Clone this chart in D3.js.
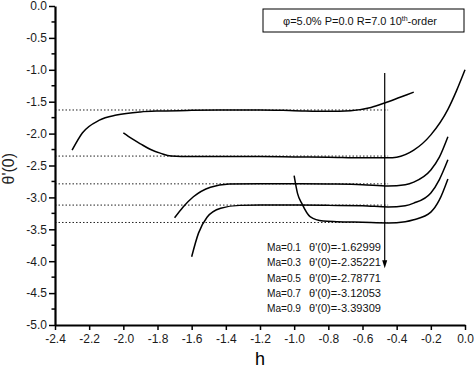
<!DOCTYPE html>
<html>
<head>
<meta charset="utf-8">
<script src="https://cdn.jsdelivr.net/npm/d3@7"></script>
<style>
  body { margin: 0; background: #fff; }
  svg { display: block; font-family: "Liberation Sans", Arial, sans-serif; }
</style>
</head>
<body>
<div class="chart"></div>
<script>
// values
const maValues = [0.1, 0.3, 0.5, 0.7, 0.9];
const theta0 = [-1.62999, -2.35221, -2.78771, -3.12053, -3.39309];

const curveMa01 = [[-2.30,-2.26],[-2.24,-1.99],[-2.14,-1.79],[-2.04,-1.71],[-1.90,-1.66],[-1.78,-1.645],
  [-1.6,-1.635],[-1.4,-1.63],[-1.2,-1.63],[-1.0,-1.64],[-0.8,-1.65],[-0.67,-1.64],[-0.55,-1.59],
  [-0.47,-1.52],[-0.38,-1.43],[-0.30,-1.35]];
const curveMa03 = [[-2.0,-1.99],[-1.95,-2.08],[-1.90,-2.16],[-1.84,-2.25],[-1.78,-2.31],[-1.72,-2.35],
  [-1.6,-2.36],[-1.4,-2.36],[-1.2,-2.36],[-1.0,-2.365],[-0.8,-2.37],[-0.6,-2.38],[-0.45,-2.38],
  [-0.4,-2.37],[-0.3,-2.26],[-0.2,-2.02],[-0.1,-1.62],[-0.05,-1.33],[0.0,-1.0]];
const curveMa05 = [[-1.70,-3.32],[-1.65,-3.15],[-1.59,-2.99],[-1.49,-2.84],[-1.38,-2.79],[-1.2,-2.785],
  [-1.0,-2.785],[-0.8,-2.79],[-0.6,-2.80],[-0.45,-2.82],[-0.35,-2.80],[-0.3,-2.76],[-0.2,-2.57],
  [-0.15,-2.37],[-0.1,-2.05]];
const curveMa07 = [[-1.60,-3.93],[-1.56,-3.56],[-1.51,-3.31],[-1.43,-3.17],[-1.32,-3.125],[-1.2,-3.12],
  [-1.0,-3.12],[-0.8,-3.125],[-0.6,-3.13],[-0.45,-3.15],[-0.35,-3.13],[-0.3,-3.09],[-0.2,-2.93],
  [-0.15,-2.72],[-0.1,-2.41]];
const curveMa09 = [[-1.0,-2.66],[-0.98,-2.94],[-0.956,-3.09],[-0.907,-3.30],[-0.83,-3.37],[-0.75,-3.38],
  [-0.6,-3.39],[-0.45,-3.40],[-0.35,-3.38],[-0.3,-3.35],[-0.2,-3.23],[-0.15,-3.04],[-0.1,-2.71]];
const curves = [curveMa01, curveMa03, curveMa05, curveMa07, curveMa09];

const xTicks = [-2.4,-2.2,-2.0,-1.8,-1.6,-1.4,-1.2,-1.0,-0.8,-0.6,-0.4,-0.2,0.0];
const yTicks = [0.0,-0.5,-1.0,-1.5,-2.0,-2.5,-3.0,-3.5,-4.0,-4.5,-5.0];
const yMinorTicks = [-0.25,-0.75,-1.25,-1.75,-2.25,-2.75,-3.25,-3.75,-4.25,-4.75];

const arrowH = -0.47, arrowTop = -1.05, arrowTip = -4.11;
const dottedEnd = -0.45;

const W = 474, H = 372;
const margin = {top: 6, right: 9, bottom: 47, left: 55};
const width = W - margin.left - margin.right,
      height = H - margin.top - margin.bottom;

const xScale = d3.scaleLinear().domain([-2.4, 0]).range([0, width]);
const yScale = d3.scaleLinear().domain([-5, 0]).range([height, 0]);

const svg = d3.select(".chart").append("svg")
    .attr("width", W)
    .attr("height", H)
  .append("g")
    .attr("transform", `translate(${margin.left},${margin.top})`);

// dotted reference levels
svg.selectAll(".ref")
  .data(theta0)
  .enter()
  .append("line")
    .attr("x1", xScale(-2.4))
    .attr("x2", xScale(dottedEnd))
    .attr("y1", d => yScale(d))
    .attr("y2", d => yScale(d))
    .attr("stroke", "#222")
    .attr("stroke-width", 1)
    .attr("stroke-dasharray", "1.5,2");

const line = d3.line()
    .x(d => xScale(d[0]))
    .y(d => yScale(d[1]))
    .curve(d3.curveMonotoneX);

svg.selectAll(".curve")
  .data(curves)
  .enter()
  .append("path")
    .attr("d", line)
    .attr("fill", "none")
    .attr("stroke", "#000")
    .attr("stroke-width", 1.5);

// arrow
svg.append("line")
    .attr("x1", xScale(arrowH)).attr("x2", xScale(arrowH))
    .attr("y1", yScale(arrowTop)).attr("y2", yScale(arrowTip) - 4)
    .attr("stroke", "#000").attr("stroke-width", 1.2);
const ax = xScale(arrowH), ay = yScale(arrowTip);
svg.append("path")
    .attr("d", `M${ax},${ay} L${ax - 2.5},${ay - 8} L${ax + 2.5},${ay - 8} Z`)
    .attr("fill", "#000");

// axes
const xAxis = d3.axisBottom(xScale)
    .tickValues(xTicks)
    .tickFormat(d => d.toFixed(1))
    .tickSize(5)
    .tickPadding(4)
    .tickSizeOuter(0);
const gx = svg.append("g")
    .attr("transform", `translate(0,${height})`)
    .call(xAxis);

const yAxis = d3.axisLeft(yScale)
    .tickValues(yTicks)
    .tickFormat(d => d.toFixed(1))
    .tickSize(6)
    .tickPadding(2)
    .tickSizeOuter(0);
const gy = svg.append("g").call(yAxis);

svg.append("g")
  .selectAll("line")
  .data(yMinorTicks)
  .enter()
  .append("line")
    .attr("x1", -3.5).attr("x2", 0)
    .attr("y1", d => yScale(d)).attr("y2", d => yScale(d))
    .attr("stroke", "#000").attr("stroke-width", 1.5);

[gx, gy].forEach(g => {
  g.select(".domain").attr("stroke", "#000").attr("stroke-width", 2.2);
  g.selectAll(".tick line").attr("stroke", "#000").attr("stroke-width", 1.5);
  g.selectAll(".tick text")
    .attr("fill", "#1a1a1a")
    .style("font-size", "12px")
    .style("font-family", "'Liberation Sans', Arial, sans-serif");
});

svg.append("text")
    .attr("x", xScale(-1.2))
    .attr("y", height + 40)
    .attr("text-anchor", "middle")
    .style("font-size", "18px")
    .text("h");

svg.append("text")
    .attr("transform", `translate(${-41},${yScale(-2.55)}) rotate(-90)`)
    .attr("text-anchor", "middle")
    .style("font-size", "16px")
    .attr("fill", "#222")
    .text("θ'(0)");

// parameter box
const box = svg.append("g").attr("transform", `translate(${263 - margin.left},${9 - margin.top})`);
box.append("rect")
    .attr("width", 201).attr("height", 23)
    .attr("fill", "#fff").attr("stroke", "#000").attr("stroke-width", 1);
const bt = box.append("text")
    .attr("x", 20).attr("y", 16)
    .style("font-size", "11px")
    .attr("fill", "#111");
bt.append("tspan").text("φ=5.0%  P=0.0  R=7.0  10");
bt.append("tspan").attr("dy", -4).style("font-size", "7px").text("th");
bt.append("tspan").attr("dy", 4).text("-order");

// annotation lines
const note = svg.append("g");
note.selectAll(".ma")
  .data(maValues)
  .enter()
  .append("text")
    .attr("x", 267 - margin.left)
    .attr("y", (d, i) => 251 - margin.top + i * 15.3)
    .style("font-size", "11px")
    .attr("fill", "#111")
    .attr("textLength", 34)
    .attr("lengthAdjust", "spacingAndGlyphs")
    .text(d => `Ma=${d}`);
note.selectAll(".th")
  .data(theta0)
  .enter()
  .append("text")
    .attr("x", 309 - margin.left)
    .attr("y", (d, i) => 251 - margin.top + i * 15.3)
    .style("font-size", "11px")
    .attr("fill", "#111")
    .attr("textLength", 72)
    .attr("lengthAdjust", "spacingAndGlyphs")
    .text(d => `θ'(0)=${d.toFixed(5)}`);
</script>
</body>
</html>
